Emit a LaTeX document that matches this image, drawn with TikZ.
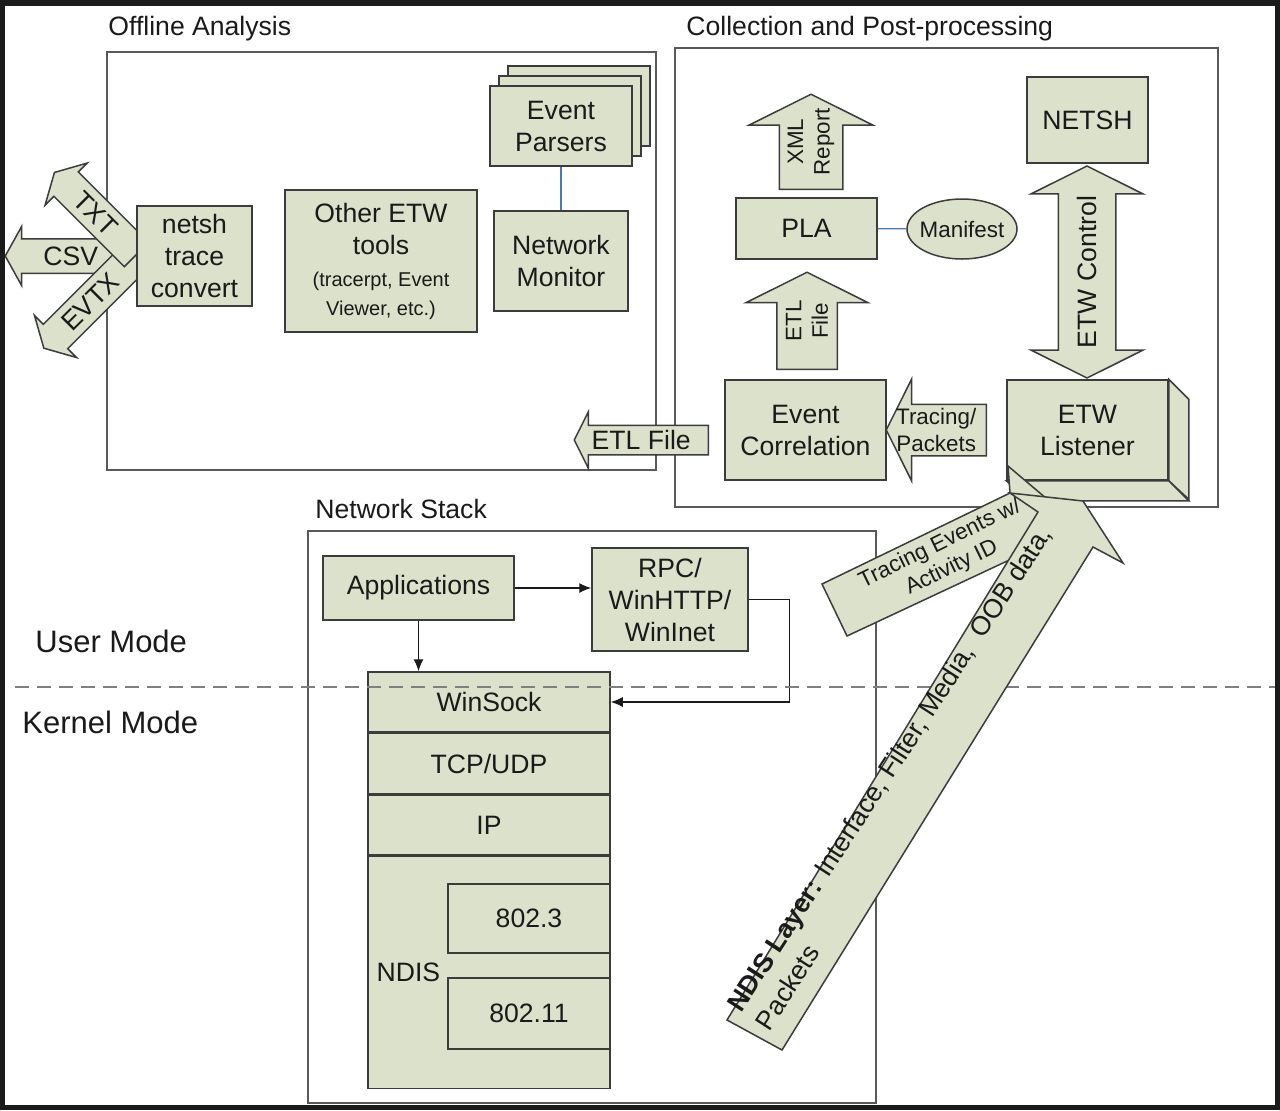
\documentclass[tikz,border=0pt]{standalone}
\usepackage{fontspec}
\setmainfont{Liberation Sans}
\usetikzlibrary{arrows.meta,positioning,calc,shapes.geometric,shapes.arrows}
\definecolor{sage}{HTML}{DCE1CB}
\definecolor{edge}{HTML}{3C3C3C}
\definecolor{frame}{HTML}{1B1B1B}
\definecolor{ink}{HTML}{1A1A1A}
\definecolor{wireblue}{HTML}{4A78B0}
\definecolor{divider}{HTML}{7F7F7F}
\newcommand{\mainsz}{\fontsize{13.3}{16}\selectfont}
\newcommand{\smallsz}{\fontsize{10}{14.5}\selectfont}
\newcommand{\labelsz}{\fontsize{11.2}{13.2}\selectfont}
\newcommand{\modesz}{\fontsize{15.5}{18}\selectfont}
\tikzset{
  >=Latex,
  every node/.style={font=\mainsz,text=ink},
  box/.style={draw=edge,line width=0.75pt,fill=sage,align=center,inner sep=0pt},
  zone/.style={draw=edge!85,line width=0.75pt,inner sep=0pt},
  zonetitle/.style={anchor=base west,inner sep=0pt},
  modetext/.style={anchor=base west,inner sep=0pt,font=\modesz},
  face/.style={draw=edge,line width=0.75pt,fill=sage,line join=miter},
  blockarr/.style={single arrow,draw=edge,line width=0.75pt,fill=sage,inner xsep=0pt,anchor=tail,single arrow tip angle=127},
  twowayarr/.style={double arrow,draw=edge,line width=0.75pt,fill=sage,inner xsep=0pt,double arrow tip angle=127},
  arrtext/.style={inner sep=0pt,align=center},
  smalltext/.style={arrtext,font=\labelsz},
  arrow/.style={->,line width=0.6pt,draw=ink,>={Latex[length=6pt,width=5pt]}},
  wire/.style={draw=wireblue,line width=0.6pt},
  modeline/.style={draw=divider,line width=1pt,dash pattern=on 7pt off 4pt},
}

\begin{document}
\begin{tikzpicture}[x=0.5pt,y=-0.5pt,node distance=0pt]
\useasboundingbox (0,0) rectangle (1280,1110);
\fill[frame] (0,0) rectangle (1280,1110);
\fill[white] (5,6) rectangle (1275,1105);

\node[zone,minimum width=274.5pt,minimum height=209pt] (offline) at (381.5,261) {};
\node[zone,minimum width=271.5pt,minimum height=229.5pt] (collect) at (946.5,277.5) {};
\node[zone,minimum width=284pt,minimum height=286pt] (netstack) at (592,817) {};
\node[zonetitle] (offlinettl) at (108,35) {Offline Analysis};
\node[zonetitle] (collectttl) at (686,35) {Collection and Post-processing};
\node[zonetitle] (netstackttl) at (315,518) {Network Stack};
\node[modetext] (usermode) at (35,652) {User Mode};
\node[modetext] (kernelmode) at (22,733) {Kernel Mode};

\node[blockarr,shape border rotate=180,minimum height=65.5pt,inner ysep=8.25pt,single arrow head extend=6.25pt,single arrow tip angle=122] (csvarr) at (137,256) {};
\node[arrtext] (csvlbl) at ($(csvarr.tail)!.5!(csvarr.tip)$) {CSV};
\node[blockarr,rotate=45,shape border rotate=180,minimum height=65.5pt,inner ysep=8.25pt,single arrow head extend=6.25pt,single arrow tip angle=122] (evtxarr) at (137,255) {};
\node[arrtext,rotate=45] (evtxlbl) at ($(evtxarr.tail)!.5!(evtxarr.tip)$) {EVTX};
\node[blockarr,rotate=-45,shape border rotate=180,minimum height=58pt,inner ysep=8.25pt,single arrow head extend=6.25pt,single arrow tip angle=122] (txtarr) at (137,255) {};
\node[arrtext,rotate=-45] (txtlbl) at ($(txtarr.tail)!.5!(txtarr.tip)$) {TXT};
\node[box,minimum width=57.5pt,minimum height=50pt] (netsh) at (194.5,256) {netsh\\trace\\convert};
\node[box,minimum width=96pt,minimum height=71pt] (ettools) at (381,261) {Other ETW\\tools\\\smallsz(tracerpt, Event\\[-1.5pt]\smallsz Viewer, etc.)};
\node[box,minimum width=71pt,minimum height=40pt] (parsers3) at (579,106) {};
\node[box,minimum width=71pt,minimum height=40pt] (parsers2) at (570,116) {};
\node[box,minimum width=71pt,minimum height=40pt] (parsers) at (561,126) {Event\\Parsers};
\node[box,minimum width=67pt,minimum height=50pt] (netmon) at (561,261) {Network\\Monitor};
\draw[wire] (parsers) -- (netmon);

\node[box,minimum width=60.5pt,minimum height=43pt] (netshctl) at (1087.5,120) {NETSH};
\node[box,minimum width=80.5pt,minimum height=50pt] (etw) at (1087.5,430) {ETW\\Listener};
\draw[face] (etw.north east) -- ++(20,20) -- ++(0,100) -- (etw.south east) -- cycle;
\draw[face] (etw.south west) -- (etw.south east) -- ++(20,20) -- ++(-161,0) -- cycle;
\node[twowayarr,rotate=90,minimum height=106pt,inner ysep=14pt,double arrow head extend=13.5pt] (ctrlarr) at (1087,272) {};
\node[arrtext,rotate=90] (ctrllbl) at (ctrlarr.center) {ETW Control};
\node[box,minimum width=70.5pt,minimum height=30.5pt] (pla) at (806.5,228.5) {PLA};
\node[box,ellipse,minimum width=55pt,minimum height=30pt,font=\labelsz] (manifest) at (962,229) {\makebox[0pt]{Manifest}};
\draw[wire] (pla) -- (manifest);
\node[blockarr,rotate=90,minimum height=47.5pt,inner ysep=15.5pt,single arrow head extend=15pt] (xmlarr) at (811,190) {};
\node[smalltext,rotate=90] (xmllbl) at ($(xmlarr.tail)!.5!(xmlarr.tip)$) {XML\\Report};
\node[box,minimum width=80.5pt,minimum height=50pt] (evcorr) at (805.5,430) {Event\\Correlation};
\node[blockarr,rotate=90,minimum height=48.5pt,inner ysep=14.75pt,single arrow head extend=15.25pt] (etlup) at (807,370) {};
\node[smalltext,rotate=90] (etluplbl) at ($(etlup.tail)!.5!(etlup.tip)$) {ETL\\File};
\node[blockarr,shape border rotate=180,minimum height=50pt,inner ysep=12.5pt,single arrow head extend=12.5pt] (pktarr) at (987,430) {};
\node[smalltext] (pktlbl) at ($(pktarr.tail)!.5!(pktarr.tip)$) {Tracing/\\Packets};
\node[blockarr,shape border rotate=180,minimum height=67pt,inner ysep=7pt,single arrow head extend=6.75pt] (etlleft) at (709,440) {};
\node[arrtext] (etlleftlbl) at ($(etlleft.tail)!.5!(etlleft.tip)$) {ETL File};

\node[box,minimum width=95.5pt,minimum height=32pt] (apps) at (418.5,588) {Applications};
\node[box,minimum width=78pt,minimum height=51.5pt] (rpc) at (670,599.5) {RPC/\\WinHTTP/\\WinInet};
\node[box,minimum width=121pt,minimum height=30pt] (winsock) at (489,702) {WinSock};
\node[box,minimum width=121pt,minimum height=30pt,below=of winsock] (tcpudp) {TCP/UDP};
\node[box,minimum width=121pt,minimum height=30pt,below=of tcpudp] (ip) {IP};
\node[box,minimum width=121pt,minimum height=116pt,below=of ip] (ndis) {};
\node[arrtext,anchor=west] (ndislbl) at ([xshift=4.5pt]ndis.west) {NDIS};
\node[box,minimum width=81pt,minimum height=34.5pt] (eth) at (529,918.5) {802.3};
\node[box,minimum width=81pt,minimum height=35.5pt] (wifi) at (529,1013.5) {802.11};
\draw[arrow] (apps.east) -- (apps.east -| rpc.west);
\draw[arrow] (apps.south) -- (apps.south |- winsock.north);
\draw[arrow] (rpc.east) -- ++(41,0) |- (winsock.east);
\draw[modeline] (15,687) -- (1275,687);

\draw[face] (847,636) -- (822,584) -- (1010,493) -- (1008,466) -- (1060,510) -- (1020,555) -- cycle;
\node[smalltext,rotate=26] (tracelbl) at (946,556) {Tracing Events w/\\Activity ID};
\draw[face] (727,1020) -- (1038,512) -- (1010,493) -- (1083,501) -- (1123,563) -- (1093,547) -- (782,1050) -- cycle;
\node[arrtext,align=left,rotate=57,font=\fontsize{13.3}{17}\selectfont] (ndislayer) at (903,778) {\textbf{NDIS Layer:} Interface, Filter, Media, \ OOB data,\\Packets};
\end{tikzpicture}
\end{document}
